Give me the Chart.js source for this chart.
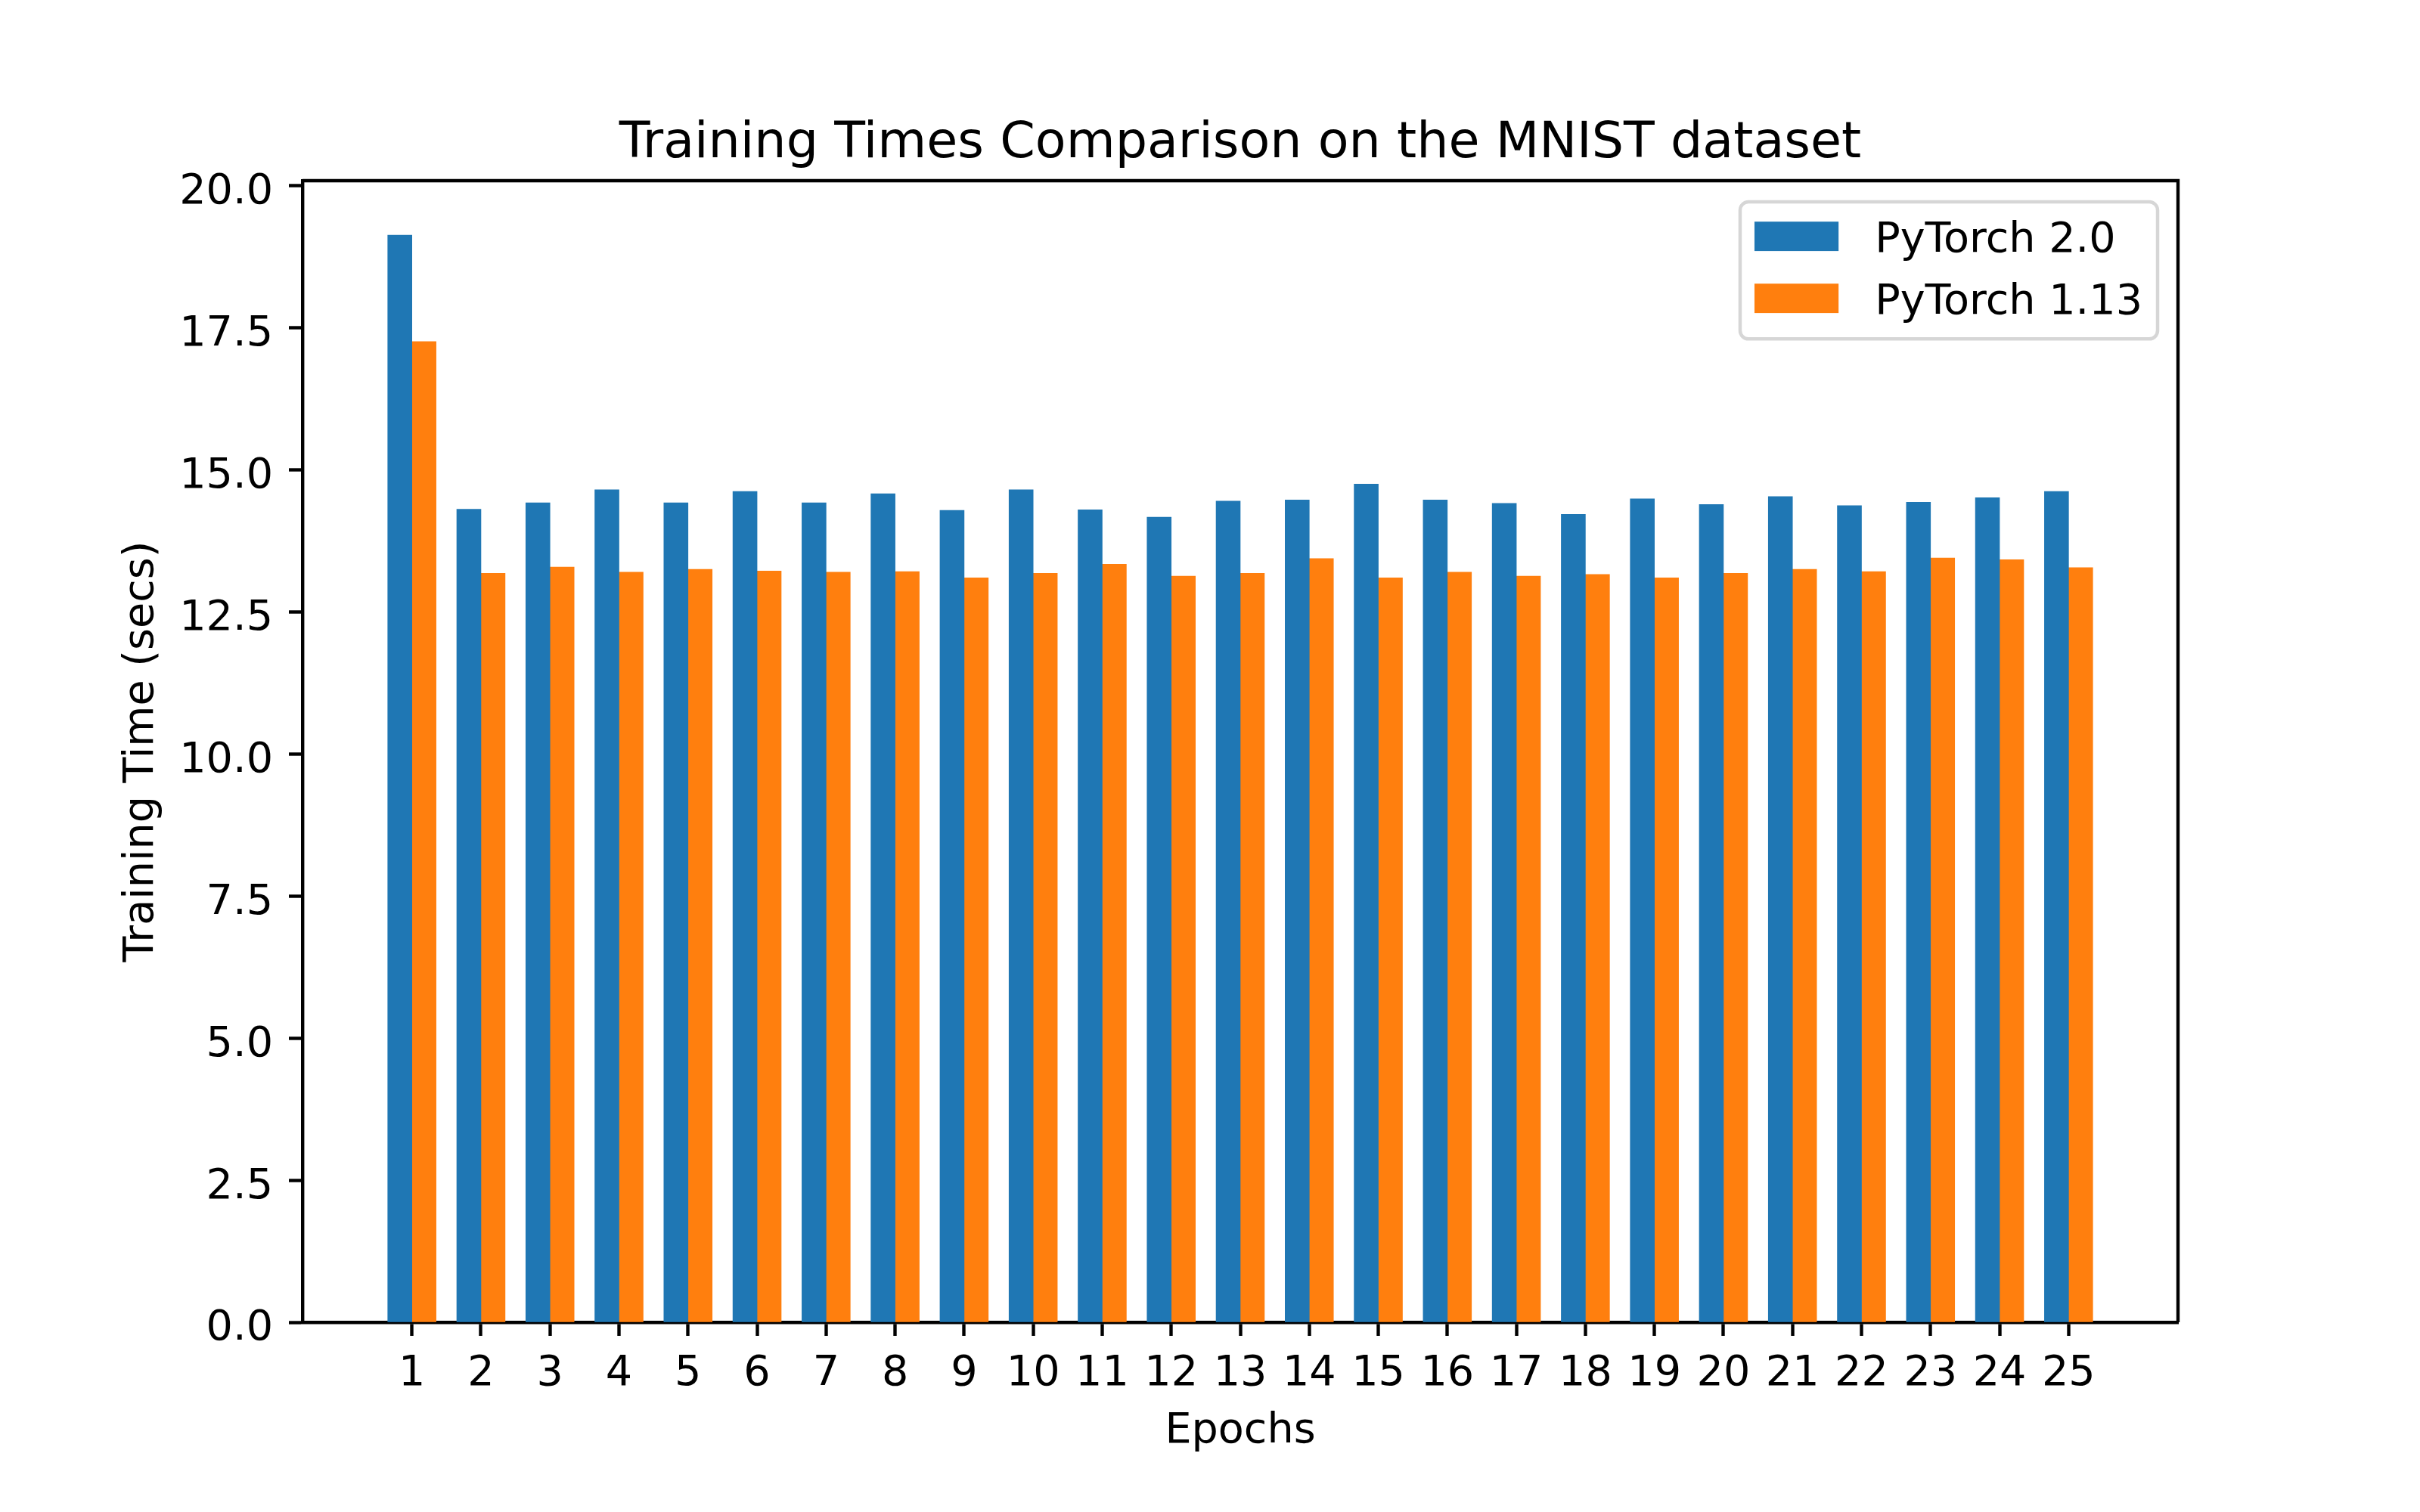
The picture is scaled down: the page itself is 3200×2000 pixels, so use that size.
<!DOCTYPE html>
<html>
<head>
<meta charset="utf-8">
<title>Training Times Comparison on the MNIST dataset</title>
<script src="https://cdn.jsdelivr.net/npm/chart.js@4.4.1/dist/chart.umd.min.js"></script>
<style>
  html, body { margin: 0; padding: 0; background: #fff; }
  canvas { display: block; }
</style>
</head>
<body>
<canvas id="trainingChart" width="3200" height="2000"></canvas>
<script>
// Values
const epochs = [1, 2, 3, 4, 5, 6, 7, 8, 9, 10, 11, 12, 13, 14, 15, 16, 17, 18, 19, 20, 21, 22, 23, 24, 25];
const pytorch20Times = [19.13, 14.31, 14.42, 14.65, 14.42, 14.62, 14.42, 14.58, 14.29, 14.65, 14.30, 14.17, 14.45,
                        14.47, 14.75, 14.47, 14.41, 14.22, 14.49, 14.39, 14.53, 14.37, 14.43, 14.51, 14.62];
const pytorch113Times = [17.26, 13.18, 13.29, 13.20, 13.25, 13.22, 13.20, 13.21, 13.10, 13.18, 13.34, 13.13, 13.18,
                         13.44, 13.10, 13.20, 13.13, 13.16, 13.10, 13.18, 13.25, 13.21, 13.45, 13.42, 13.28];
const yTicks = [0, 2.5, 5, 7.5, 10, 12.5, 15, 17.5, 20];
const seriesLabels = ["PyTorch 2.0", "PyTorch 1.13"];

const barWidth = 0.35;   // in epoch units, bars sit either side of the tick
const FONT = "'DejaVu Sans', sans-serif";
const PX = 55.6;         // 10pt at 400 dpi
const LINE = 4.4;

Chart.defaults.color = "#000";
Chart.defaults.font.family = FONT;
Chart.defaults.font.size = PX;

// top/right spines plus a matplotlib style legend box
const frameAndLegend = {
  id: "frameAndLegend",
  afterDraw(chart) {
    const { ctx, chartArea: a } = chart;
    ctx.save();
    ctx.strokeStyle = "#000";
    ctx.lineWidth = LINE;
    ctx.beginPath();
    ctx.moveTo(a.left, a.top);
    ctx.lineTo(a.right, a.top);
    ctx.lineTo(a.right, a.bottom);
    ctx.stroke();

    ctx.font = `${PX}px ${FONT}`;
    const textW = Math.max(...chart.data.datasets.map(d => ctx.measureText(d.label).width));
    const boxRight = a.right - 27;
    const boxTop = a.top + 28;
    const textX = boxRight - 20 - textW;
    const patchRight = textX - 48;
    const patchLeft = patchRight - 2 * PX;
    const boxLeft = patchLeft - 19;
    const boxH = 3.26 * PX;

    ctx.beginPath();
    ctx.roundRect(boxLeft, boxTop, boxRight - boxLeft, boxH, 11);
    ctx.fillStyle = "rgba(255,255,255,0.8)";
    ctx.fill();
    ctx.strokeStyle = "rgba(204,204,204,0.8)";
    ctx.lineWidth = 4.5;
    ctx.stroke();

    ctx.textAlign = "left";
    ctx.textBaseline = "alphabetic";
    chart.data.datasets.forEach((d, i) => {
      const cy = boxTop + 0.82 * PX + i * 1.475 * PX;
      const ph = 0.7 * PX;
      ctx.fillStyle = d.backgroundColor;
      ctx.fillRect(patchLeft, cy - ph / 2, 2 * PX, ph);
      ctx.fillStyle = "#000";
      ctx.fillText(d.label, textX, cy + 0.3645 * PX);
    });
    ctx.restore();
  }
};

const ctx = document.getElementById("trainingChart").getContext("2d");

new Chart(ctx, {
  type: "bar",
  data: {
    datasets: [
      {
        label: seriesLabels[0],
        data: epochs.map((e, i) => ({ x: e - barWidth / 2, y: pytorch20Times[i] })),
        backgroundColor: "#1f77b4",
      },
      {
        label: seriesLabels[1],
        data: epochs.map((e, i) => ({ x: e + barWidth / 2, y: pytorch113Times[i] })),
        backgroundColor: "#ff7f0e",
      },
    ],
  },
  options: {
    responsive: false,
    animation: false,
    devicePixelRatio: 1,
    grouped: false,
    categoryPercentage: 1,
    barPercentage: 1,
    borderWidth: 0,
    layout: { padding: { left: 0, top: 0, right: 320, bottom: 0 } },
    plugins: {
      legend: { display: false },
      tooltip: { enabled: false },
      title: {
        display: true,
        fullSize: false,
        text: "Training Times Comparison on the MNIST dataset",
        font: { size: 66.7, weight: "normal" },
        padding: { top: 151, bottom: 8 },
      },
    },
    scales: {
      x: {
        type: "linear",
        min: -0.585,
        max: 26.585,
        offset: false,
        z: 1,
        afterFit: s => { s.height = 251; },
        afterBuildTicks: s => { s.ticks = epochs.map(v => ({ value: v })); },
        ticks: {
          autoSkip: false,
          maxRotation: 0,
          minRotation: 0,
          padding: 17,
          callback: v => String(v),
        },
        grid: { offset: false, drawOnChartArea: false, drawTicks: true, tickLength: 18, tickWidth: LINE, tickColor: "#000" },
        border: { display: true, color: "#000", width: LINE },
        title: { display: true, text: "Epochs", padding: { top: 0, bottom: 72.8 } },
      },
      y: {
        type: "linear",
        min: 0,
        max: 20.09,
        z: 1,
        afterFit: s => { s.width = 400; },
        afterBuildTicks: s => { s.ticks = yTicks.map(v => ({ value: v })); },
        ticks: {
          padding: 21,
          labelOffset: 9,
          callback: v => Number(v).toFixed(1),
        },
        grid: { drawOnChartArea: false, drawTicks: true, tickLength: 18, tickWidth: LINE, tickColor: "#000" },
        border: { display: true, color: "#000", width: LINE },
        title: { display: true, text: "Training Time (secs)", padding: { top: 153.9, bottom: 0 } },
      },
    },
  },
  plugins: [frameAndLegend],
});
</script>
</body>
</html>
